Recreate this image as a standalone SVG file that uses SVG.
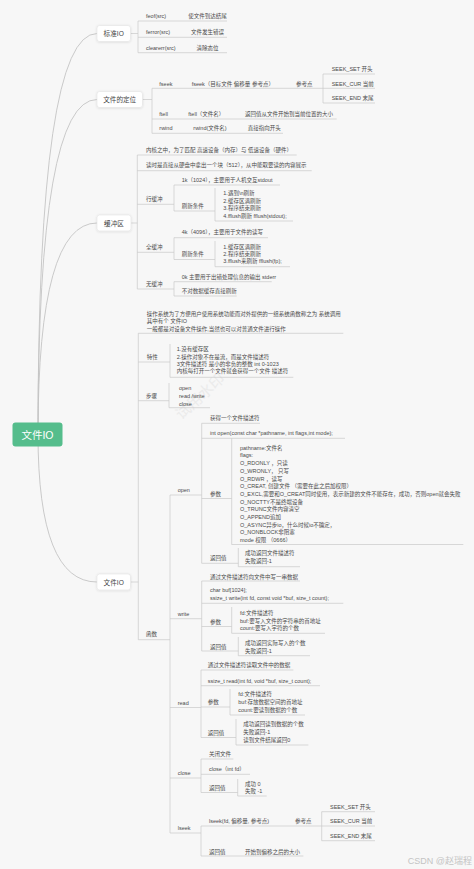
<svg xmlns="http://www.w3.org/2000/svg" width="474" height="869" viewBox="0 0 474 869">
<style>
text{font-family:"Liberation Sans","Noto Sans CJK SC",sans-serif;dominant-baseline:central;fill:#4a4a4a}
.t{font-size:5.5px}
.m{text-anchor:middle}
.l1{font-size:6.6px;text-anchor:middle;fill:#444}
.box{fill:#fff;stroke:#e2e2e2;stroke-width:0.6}
.ln{stroke:#c9c9c9;stroke-width:0.7;fill:none}
.cv{stroke:#c4c4c4;stroke-width:0.9;fill:none}
</style>
<defs>
<filter id="sh" x="-20%" y="-30%" width="140%" height="160%"><feDropShadow dx="0" dy="0.5" stdDeviation="0.8" flood-color="#000" flood-opacity="0.12"/></filter>
</defs>
<rect width="474" height="869" fill="#f7f7f7"/>
<text x="200" y="396" font-size="15" fill="#e8e8e8" style="fill:#ebebeb" transform="rotate(-42 200 396)" text-anchor="middle">试用水印</text>

<g id="connectors">
<path class="cv" d="M38,434 Q38,33.5 97,33.5"/>
<path class="cv" d="M38,434 Q38,99.5 97,99.5"/>
<path class="cv" d="M38,434 Q38,223 97,223"/>
<path class="cv" d="M38,434 Q38,582 97,582"/>
<!-- 标准IO -->
<path class="ln" d="M130.5,33.5H138M138,21V52.7"/>
<!-- 文件的定位 -->
<path class="ln" d="M142.5,99.5H152M152,88.3V133.3M323,74V103"/>
<!-- 缓冲区 -->
<path class="ln" d="M131,223H137.3M137.3,155V289M174,185V211M215,188V221M174,237.7V259.5M215,241V266.7M174,281.7V296"/>
<!-- 文件IO -->
<path class="ln" d="M130.5,582H138.3M138.3,333.3V639.7M170,344V377.3M169,383V407.7M170,495V833"/>
<path class="ln" d="M201.7,423.3V563.3M231.7,438.3V544.5M238.3,548V566.7"/>
<path class="ln" d="M201.7,581V651M231.7,607V633.3M238.3,637V655.7"/>
<path class="ln" d="M201,670V737.5M230,689V715M236,719V745"/>
<path class="ln" d="M201,759V792.5M237.7,779V796"/>
<path class="ln" d="M201,826V856M321.7,811.7V840.7"/>
</g>

<g id="root">
<rect x="12.5" y="422.5" width="50" height="24" rx="3" fill="#55bd8c"/>
<text x="37.5" y="434.5" font-size="10.5" text-anchor="middle" style="fill:#fff">文件IO</text>
</g>

<g id="n-std">
<rect class="box" x="97" y="25.5" width="33.5" height="16" rx="2.5" filter="url(#sh)"/>
<text class="l1" x="113.7" y="33.5">标准IO</text>
</g>
<g id="n-std-children">
<path class="ln" d="M138,21H227M138,37.3H227M138,52.7H227"/>
<text class="t" x="146" y="16">feof(src)</text>
<text class="t m" x="207.5" y="16">使文件到达结尾</text>
<text class="t" x="146" y="32.3">ferror(src)</text>
<text class="t m" x="207.5" y="32.3">文件发生错误</text>
<text class="t" x="146" y="47.7">clearerr(src)</text>
<text class="t m" x="207.5" y="47.7">清除态位</text>
</g>

<g id="n-pos">
<rect class="box" x="97" y="91.5" width="45.5" height="16" rx="2.5" filter="url(#sh)"/>
<text class="l1" x="119.7" y="99.5">文件的定位</text>
</g>
<g id="n-fseek">
<path class="ln" d="M152,88.3H323"/>
<text class="t" x="159.3" y="84">fseek</text>
<text class="t" x="191.7" y="84">fseek（目标文件 偏移量  参考点）</text>
<text class="t" x="296" y="84">参考点</text>
</g>
<g id="n-seek1">
<path class="ln" d="M323,74H375M323,88.3H375M323,103H375"/>
<text class="t" x="331.7" y="69">SEEK_SET  开头</text>
<text class="t" x="331.7" y="84">SEEK_CUR  当前</text>
<text class="t" x="331.7" y="98.3">SEEK_END  末尾</text>
</g>
<g id="n-ftell">
<path class="ln" d="M152,119H336.7"/>
<text class="t" x="159.3" y="114">ftell</text>
<text class="t" x="188.3" y="114">ftell（文件名）</text>
<text class="t" x="245" y="114">返回值从文件开始到当前位置的大小</text>
</g>
<g id="n-rwind">
<path class="ln" d="M152,133.3H283"/>
<text class="t" x="159.3" y="128.3">rwind</text>
<text class="t" x="193.3" y="128.3">rwind(文件名)</text>
<text class="t" x="247.7" y="128.3">直接指向开头</text>
</g>

<g id="n-buf">
<rect class="box" x="97" y="215" width="34" height="16" rx="2.5" filter="url(#sh)"/>
<text class="l1" x="114" y="223">缓冲区</text>
</g>
<g id="n-buf-desc">
<path class="ln" d="M137.3,155H296.7M137.3,170.7H311.7"/>
<text class="t" x="146" y="150">内核之中，为了匹配 高速设备（内存）与 低速设备（硬件）</text>
<text class="t" x="146" y="165">读时是直接从硬盘中拿出一个块（512），从中能取要读的内容展示</text>
</g>
<g id="n-line-buf">
<path class="ln" d="M137.3,204.3H174M174,185H280M174,211H215M215,221H293"/>
<text class="t" x="146" y="199.3">行缓冲</text>
<text class="t" x="181.7" y="180">1k（1024），主要用于人机交互stdout</text>
<text class="t" x="181.7" y="205.7">刷新条件</text>
<text class="t" x="223.3" y="192.8">1.遇到\n刷新</text>
<text class="t" x="223.3" y="200.6">2.缓存区满刷新</text>
<text class="t" x="223.3" y="208.4">3.程序结束刷新</text>
<text class="t" x="223.3" y="216.2">4.fflush刷新   fflush(stdout);</text>
</g>
<g id="n-full-buf">
<path class="ln" d="M137.3,252.3H174M174,237.7H268M174,259.5H215M215,266.7H290"/>
<text class="t" x="146" y="247.3">全缓冲</text>
<text class="t" x="181.7" y="231.7">4k（4096），主要用于文件的读写</text>
<text class="t" x="181.7" y="254.3">刷新条件</text>
<text class="t" x="223.3" y="246.7">1.缓存区满刷新</text>
<text class="t" x="223.3" y="254">2.程序结束刷新</text>
<text class="t" x="223.3" y="261.3">3.fflush来刷新   fflush(fp);</text>
</g>
<g id="n-no-buf">
<path class="ln" d="M137.3,289H174M174,281.7H271.7M174,296H236.7"/>
<text class="t" x="146" y="284.3">无缓冲</text>
<text class="t" x="181.7" y="276.7">0k  主要用于出错处理信息的输出 stderr</text>
<text class="t" x="181.7" y="291">不对数据缓存直接刷新</text>
</g>

<g id="n-fio">
<rect class="box" x="97" y="574" width="33.5" height="16" rx="2.5" filter="url(#sh)"/>
<text class="l1" x="113.7" y="582">文件IO</text>
</g>
<g id="n-fio-desc">
<path class="ln" d="M138.3,333.3H343.3"/>
<text class="t" x="146.7" y="313.5">操作系统为了方便用户使用系统功能而对外提供的一组系统函数称之为 系统调用</text>
<text class="t" x="146.7" y="321">其中有个  文件IO</text>
<text class="t" x="146.7" y="328.5">一般都是对设备文件操作,当然也可以对普通文件进行操作</text>
</g>
<g id="n-feature">
<path class="ln" d="M138.3,362H170M170,377.3H293.3"/>
<text class="t" x="146.7" y="357.3">特性</text>
<text class="t" x="176.7" y="349.3">1.没有缓存区</text>
<text class="t" x="176.7" y="356.5">2.操作对象不在是流，而是文件描述符</text>
<text class="t" x="176.7" y="363.8">3文件描述符   是小的非负的整数 int   0-1023</text>
<text class="t" x="176.7" y="371">内核每打开一个文件就会获得一个文件 描述符</text>
</g>
<g id="n-steps">
<path class="ln" d="M138.3,400.7H169M169,407.7H210"/>
<text class="t" x="146" y="396">步骤</text>
<text class="t" x="179" y="388.3">open</text>
<text class="t" x="179" y="396">read /write</text>
<text class="t" x="179" y="403.5">close</text>
</g>
<g id="n-func">
<path class="ln" d="M138.3,639.7H170"/>
<text class="t" x="146" y="634.3">函数</text>
</g>

<g id="n-open">
<path class="ln" d="M170,495H201.7M201.7,423.3H260M201.7,438.3H345"/>
<text class="t" x="177.7" y="490">open</text>
<text class="t" x="210" y="418.3">获得一个文件描述符</text>
<text class="t" x="210" y="433.3">int open(const char *pathname, int flags,int mode);</text>
</g>
<g id="n-open-param">
<path class="ln" d="M201.7,498.5H231.7M231.7,544.5H463.3"/>
<text class="t" x="210" y="494">参数</text>
<text class="t" x="240" y="447.7">pathname:文件名</text>
<text class="t" x="240" y="455.4">flags:</text>
<text class="t" x="240" y="463.1">O_RDONLY ，只读</text>
<text class="t" x="240" y="470.8">O_WRONLY，  只写</text>
<text class="t" x="240" y="478.5">O_RDWR ，读写</text>
<text class="t" x="240" y="486.2">O_CREAT, 创建文件   （需要在此之后加权限）</text>
<text class="t" x="240" y="493.9">O_EXCL,需要和O_CREAT同时使用，表示新建的文件不能存在，成功，否则open就会失败</text>
<text class="t" x="240" y="501.6">O_NOCTTY不是终端设备</text>
<text class="t" x="240" y="509.3">O_TRUNC文件内容清空</text>
<text class="t" x="240" y="517">O_APPEND追加</text>
<text class="t" x="240" y="524.7">O_ASYNC异步io，什么时候io不确定，</text>
<text class="t" x="240" y="532.4">O_NONBLOCK非阻塞</text>
<text class="t" x="240" y="540.1">mode 权限   （0666）</text>
</g>
<g id="n-open-ret">
<path class="ln" d="M201.7,563.3H238.3M238.3,566.7H300"/>
<text class="t" x="210" y="558.3">返回值</text>
<text class="t" x="245" y="553.3">成功返回文件描述符</text>
<text class="t" x="245" y="560.7">失败返回-1</text>
</g>

<g id="n-write">
<path class="ln" d="M170,618.7H201.7M201.7,581H300M201.7,603.3H343.3"/>
<text class="t" x="177.7" y="614">write</text>
<text class="t" x="210" y="576.7">通过文件描述符向文件中写一串数据</text>
<text class="t" x="210" y="590">char buf[1024];</text>
<text class="t" x="210" y="598.3">ssize_t write(int fd,   const   void *buf, size_t count);</text>
</g>
<g id="n-write-param">
<path class="ln" d="M201.7,626.5H231.7M231.7,633.3H325"/>
<text class="t" x="210" y="621.7">参数</text>
<text class="t" x="240" y="613.3">fd:文件描述符</text>
<text class="t" x="240" y="621">buf:要写入文件的字符串的首地址</text>
<text class="t" x="240" y="628.3">count:要写入字符的个数</text>
</g>
<g id="n-write-ret">
<path class="ln" d="M201.7,651H238.3M238.3,655.7H310"/>
<text class="t" x="210" y="646.7">返回值</text>
<text class="t" x="245" y="642.7">成功返回实际写入的个数</text>
<text class="t" x="245" y="650.7">失败返回-1</text>
</g>

<g id="n-read">
<path class="ln" d="M170,707.5H201M201,670H293.3M201,685.7H320"/>
<text class="t" x="177.7" y="702.7">read</text>
<text class="t" x="207.7" y="665">通过文件描述符读取文件中的数据</text>
<text class="t" x="207.7" y="680.7">ssize_t read(int fd, void *buf, size_t count);</text>
</g>
<g id="n-read-param">
<path class="ln" d="M201,707H230M230,715H305"/>
<text class="t" x="207.7" y="702.3">参数</text>
<text class="t" x="238.3" y="694.3">fd:文件描述符</text>
<text class="t" x="238.3" y="702.3">buf:存放数据空间的首地址</text>
<text class="t" x="238.3" y="710">count:要读到数据的个数</text>
</g>
<g id="n-read-ret">
<path class="ln" d="M201,737.5H236M236,745H308.3"/>
<text class="t" x="207.7" y="732.7">返回值</text>
<text class="t" x="243.3" y="724.3">成功返回读到数据的个数</text>
<text class="t" x="243.3" y="732.3">失败返回-1</text>
<text class="t" x="243.3" y="740">读到文件结尾返回0</text>
</g>

<g id="n-close">
<path class="ln" d="M170,778H201M201,759H233.3M201,774.3H250"/>
<text class="t" x="177.7" y="773.3">close</text>
<text class="t" x="209" y="754.3">关闭文件</text>
<text class="t" x="209" y="769.3">close（int fd）</text>
</g>
<g id="n-close-ret">
<path class="ln" d="M201,792.5H237.7M237.7,796H266.7"/>
<text class="t" x="209" y="787.7">返回值</text>
<text class="t" x="245" y="784">成功 0</text>
<text class="t" x="245" y="791">失败 -1</text>
</g>

<g id="n-lseek">
<path class="ln" d="M170,833H201M201,826H321.7"/>
<text class="t" x="177.7" y="828.3">lseek</text>
<text class="t" x="209" y="821">lseek(fd, 偏移量,   参考点)</text>
<text class="t" x="295" y="821">参考点</text>
</g>
<g id="n-seek2">
<path class="ln" d="M321.7,811.7H375M321.7,826H375M321.7,840.7H375"/>
<text class="t" x="330" y="806.7">SEEK_SET  开头</text>
<text class="t" x="330" y="821">SEEK_CUR  当前</text>
<text class="t" x="330" y="835.7">SEEK_END  末尾</text>
</g>
<g id="n-lseek-ret">
<path class="ln" d="M201,856H303.3"/>
<text class="t" x="209" y="851.7">返回值</text>
<text class="t" x="245" y="851.7">开始到偏移之后的大小</text>
</g>

<text x="472" y="861" font-size="9" text-anchor="end" style="fill:#c4c4c4">CSDN @赵瑞程</text>
</svg>
